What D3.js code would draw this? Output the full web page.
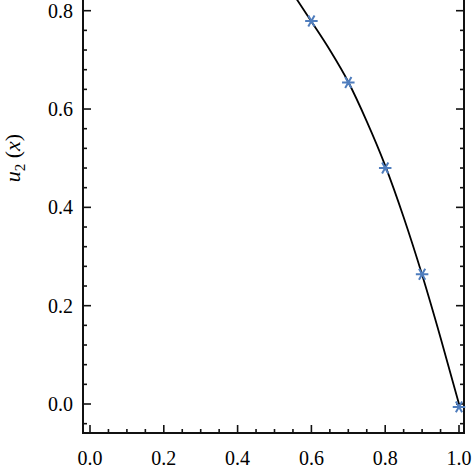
<!DOCTYPE html>
<html><head><meta charset="utf-8">
<script src="https://cdn.jsdelivr.net/npm/d3@7"></script>
<style>body{margin:0;background:#fff} text{font-family:"Liberation Serif","DejaVu Serif","Times New Roman",serif}</style>
</head><body>
<svg width="474" height="474"></svg>
<script>
// fitted curve
const curveX = [0.55, 0.6, 0.65, 0.7, 0.75, 0.8, 0.85, 0.9, 0.95, 1.0]
const curveY = [0.835, 0.778, 0.72, 0.655, 0.575, 0.485, 0.38, 0.263, 0.135, 0.0]
// computed points
const pointX = [0.6, 0.7, 0.8, 0.9, 1.0]
const pointY = [0.779, 0.654, 0.48, 0.264, -0.006]
const xTicks = [0, 0.2, 0.4, 0.6, 0.8, 1.0]
const yTicks = [0, 0.2, 0.4, 0.6, 0.8]

const svg = d3.select("svg")
const x = d3.scaleLinear().domain([0, 1]).range([90, 459])
const y = d3.scaleLinear().domain([0, 0.8]).range([404, 10.7])
const left = 83, right = 464, bottom = 433

const g = svg.append("g")
g.append("clipPath").attr("id", "c").append("rect")
	.attr("x", left).attr("y", 0).attr("width", right - left).attr("height", bottom)

// minor + major ticks
const yMinor = d3.range(-0.04, 0.85, 0.04)
const xMinor = d3.range(0, 1.001, 0.05)
yMinor.forEach(v => {
	const major = yTicks.some(t => Math.abs(t - v) < 1e-6)
	const len = major ? 8 : 4
	g.append("line").attr("x1", left).attr("x2", left + len).attr("y1", y(v)).attr("y2", y(v))
	g.append("line").attr("x1", right).attr("x2", right - len).attr("y1", y(v)).attr("y2", y(v))
})
xMinor.forEach(v => {
	const major = xTicks.some(t => Math.abs(t - v) < 1e-6)
	const len = major ? 8 : 4
	g.append("line").attr("x1", x(v)).attr("x2", x(v)).attr("y1", bottom).attr("y2", bottom - len)
})
g.selectAll("line").attr("stroke", "#111").attr("stroke-width", 1.6)

g.append("path")
	.attr("d", `M${left},0V${bottom}H${right}V0`)
	.attr("fill", "none").attr("stroke", "#111").attr("stroke-width", 2)

g.selectAll(".xl").data(xTicks).enter().append("text")
	.attr("x", d => x(d)).attr("y", 465).attr("text-anchor", "middle")
	.attr("font-size", 20).text(d => d.toFixed(1))
g.selectAll(".yl").data(yTicks).enter().append("text")
	.attr("x", 73).attr("y", d => y(d) + 7).attr("text-anchor", "end")
	.attr("font-size", 20).text(d => d.toFixed(1))

const yl = g.append("text").attr("transform", "translate(20,158) rotate(-90)")
	.attr("text-anchor", "middle").attr("font-size", 22)
yl.append("tspan").attr("font-style", "italic").text("u")
yl.append("tspan").attr("font-size", 15).attr("dy", 5).text("2")
yl.append("tspan").attr("dy", -5).text(" (")
yl.append("tspan").attr("font-style", "italic").text("x")
yl.append("tspan").text(")")

const line = d3.line().x(d => x(d[0])).y(d => y(d[1])).curve(d3.curveMonotoneX)
g.append("path").attr("clip-path", "url(#c)")
	.attr("d", line(d3.zip(curveX, curveY)))
	.attr("fill", "none").attr("stroke", "#000").attr("stroke-width", 1.8)

g.selectAll(".pt").data(d3.zip(pointX, pointY)).enter().append("path")
	.attr("transform", d => `translate(${x(d[0])},${y(d[1])}) rotate(90)`)
	.attr("d", d3.symbol(d3.symbolAsterisk, 110))
	.attr("fill", "none").attr("stroke", "#4f7dbd").attr("stroke-width", 2)
</script>
</body></html>
